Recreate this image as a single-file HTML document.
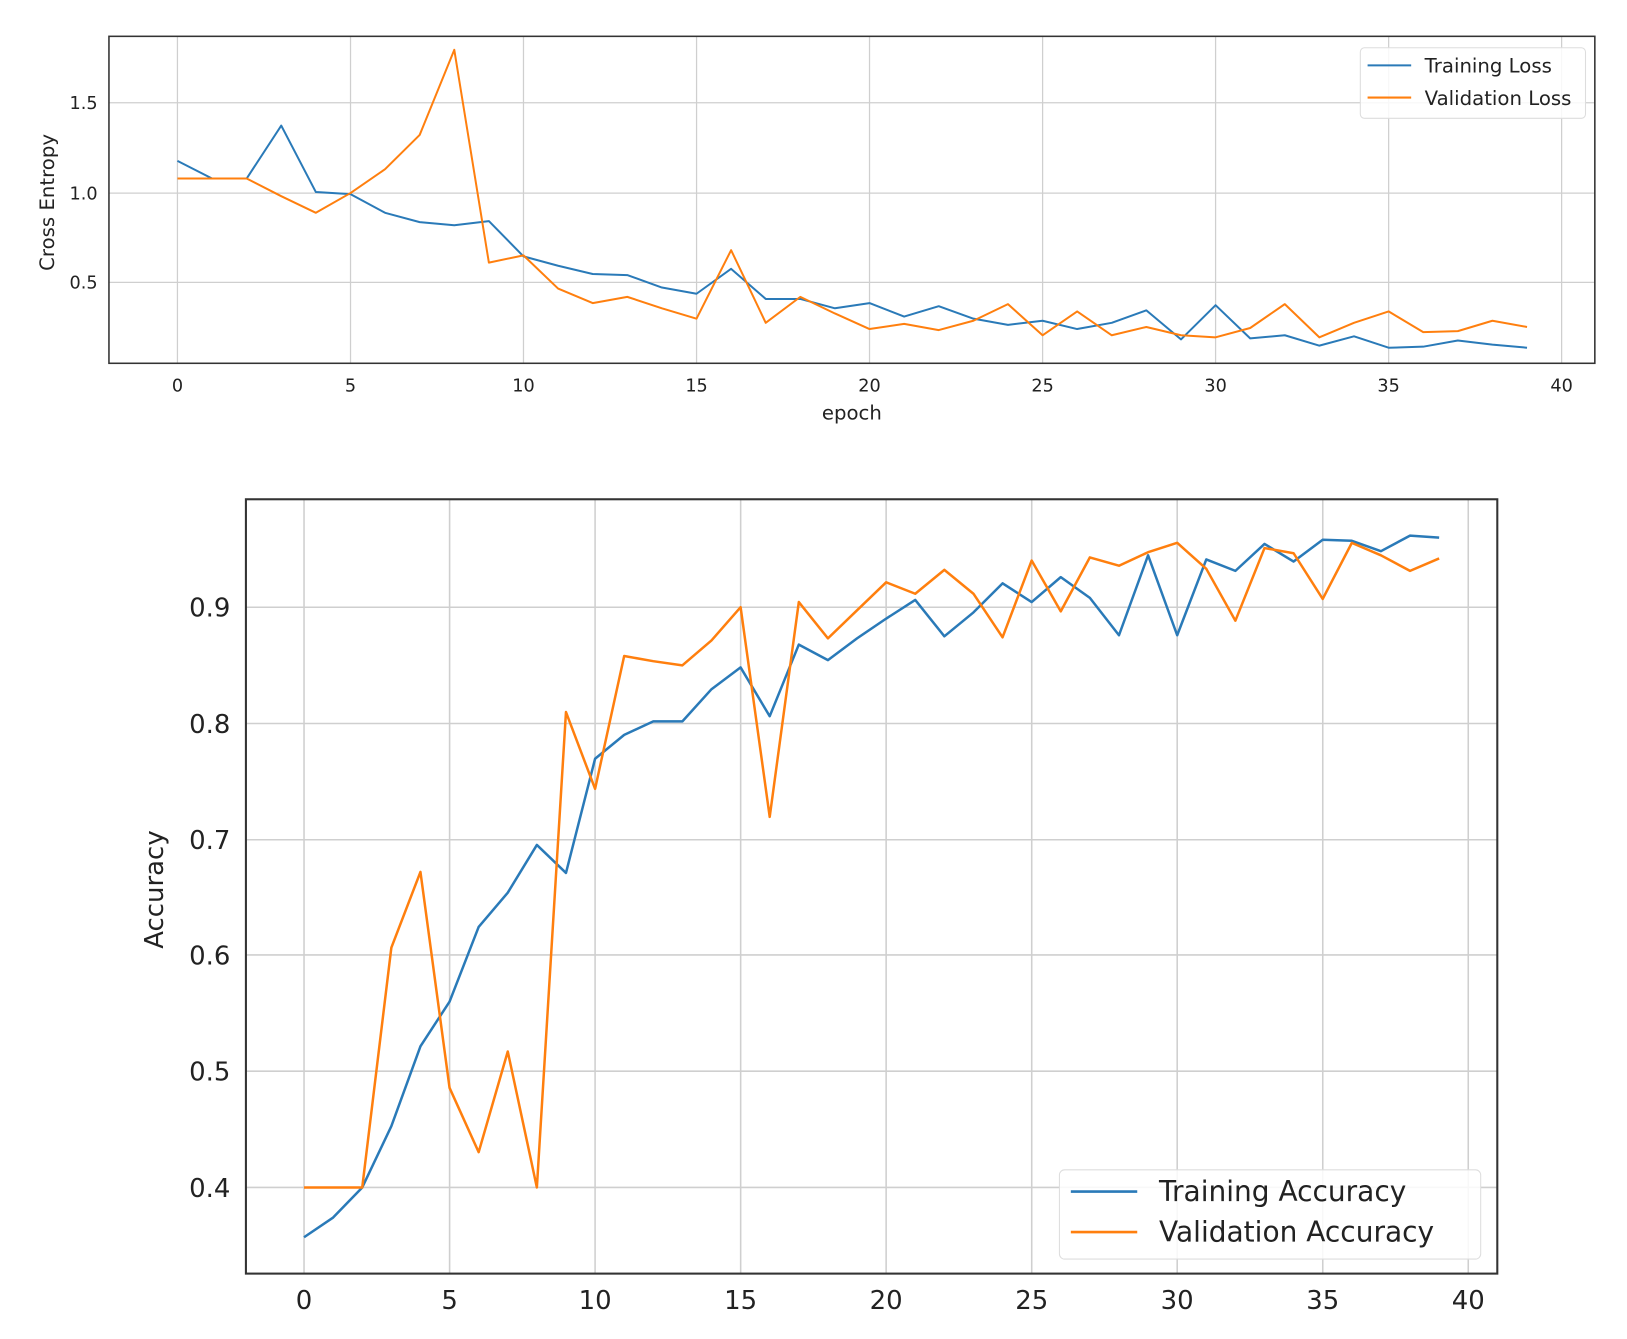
<!DOCTYPE html>
<html><head><meta charset="utf-8"><style>
html,body{margin:0;padding:0;background:#fff;}
svg{display:block;}
text{font-family:"DejaVu Sans","Liberation Sans",sans-serif;fill:#222;}
</style></head><body>
<svg width="1627" height="1339" viewBox="0 0 1568 1290" preserveAspectRatio="none" xmlns="http://www.w3.org/2000/svg">
<rect width="1568" height="1290" fill="#fff"/>
<!-- TOP PLOT -->
<g stroke="#cfcfcf" stroke-width="1.2">
<line x1="171" y1="35" x2="171" y2="350"/><line x1="337.8" y1="35" x2="337.8" y2="350"/><line x1="504.5" y1="35" x2="504.5" y2="350"/><line x1="671.3" y1="35" x2="671.3" y2="350"/><line x1="838" y1="35" x2="838" y2="350"/><line x1="1004.8" y1="35" x2="1004.8" y2="350"/><line x1="1171.5" y1="35" x2="1171.5" y2="350"/><line x1="1338.3" y1="35" x2="1338.3" y2="350"/><line x1="1505" y1="35" x2="1505" y2="350"/>
<line x1="105" y1="99" x2="1537" y2="99"/><line x1="105" y1="186" x2="1537" y2="186"/><line x1="105" y1="272" x2="1537" y2="272"/>
</g>
<g transform="translate(171,0) scale(33.35,1)" fill="none" stroke-width="2" stroke-linejoin="round">
<polyline vector-effect="non-scaling-stroke" stroke="#2a7ab8" points="0,155 1,172 2,172 3,121 4,185 5,187 6,205 7,214 8,217 9,213 10,247 11,256 12,264 13,265 14,277 15,283 16,259 17,288 18,288 19,297 20,292 21,305 22,295 23,307 24,313 25,309 26,317 27,311 28,299 29,327 30,294 31,326 32,323 33,333 34,324 35,335 36,334 37,328 38,332 39,335"/>
<polyline vector-effect="non-scaling-stroke" stroke="#ff7f0e" points="0,172 1,172 2,172 3,189 4,205 5,186 6,163 7,130 8,48 9,253 10,246 11,278 12,292 13,286 14,297 15,307 16,241 17,311 18,286 19,302 20,317 21,312 22,318 23,309 24,293 25,323 26,300 27,323 28,315 29,323 30,325 31,316 32,293 33,325 34,311 35,300 36,320 37,319 38,309 39,315"/>
</g>
<rect x="105" y="35" width="1432" height="315" fill="none" stroke="#333" stroke-width="1.5"/>
<g font-size="17" text-anchor="middle">
<text x="171" y="377">0</text><text x="337.8" y="377">5</text><text x="504.5" y="377">10</text><text x="671.3" y="377">15</text><text x="838" y="377">20</text><text x="1004.8" y="377">25</text><text x="1171.5" y="377">30</text><text x="1338.3" y="377">35</text><text x="1505" y="377">40</text>
<text x="821" y="404" font-size="19">epoch</text>
</g>
<g font-size="17" text-anchor="end">
<text x="94" y="105">1.5</text><text x="94" y="192">1.0</text><text x="94" y="278">0.5</text>
</g>
<text transform="translate(52,195) rotate(-90)" font-size="19" text-anchor="middle">Cross Entropy</text>
<rect x="1311" y="46" width="217" height="68" rx="4" fill="#fff" fill-opacity="0.85" stroke="#ddd"/>
<line x1="1318" y1="63" x2="1360" y2="63" stroke="#2a7ab8" stroke-width="2"/>
<line x1="1318" y1="94" x2="1360" y2="94" stroke="#ff7f0e" stroke-width="2"/>
<text x="1373" y="70" font-size="19">Training Loss</text>
<text x="1373" y="101" font-size="19">Validation Loss</text>

<!-- BOTTOM PLOT -->
<g stroke="#cfcfcf" stroke-width="1.5">
<line x1="293" y1="481" x2="293" y2="1227"/><line x1="433.3" y1="481" x2="433.3" y2="1227"/><line x1="573.5" y1="481" x2="573.5" y2="1227"/><line x1="713.8" y1="481" x2="713.8" y2="1227"/><line x1="854" y1="481" x2="854" y2="1227"/><line x1="994.3" y1="481" x2="994.3" y2="1227"/><line x1="1134.5" y1="481" x2="1134.5" y2="1227"/><line x1="1274.8" y1="481" x2="1274.8" y2="1227"/><line x1="1415" y1="481" x2="1415" y2="1227"/>
<line x1="237" y1="585" x2="1443" y2="585"/><line x1="237" y1="697" x2="1443" y2="697"/><line x1="237" y1="809" x2="1443" y2="809"/><line x1="237" y1="920" x2="1443" y2="920"/><line x1="237" y1="1032" x2="1443" y2="1032"/><line x1="237" y1="1144" x2="1443" y2="1144"/>
</g>
<g transform="translate(293,0) scale(28.05,1)" fill="none" stroke-width="2.5" stroke-linejoin="round">
<polyline vector-effect="non-scaling-stroke" stroke="#2a7ab8" points="0,1192 1,1173 2,1144 3,1085 4,1008 5,965 6,893 7,860 8,814 9,841 10,731 11,708 12,695 13,695 14,664 15,643 16,690 17,621 18,636 19,615 20,596 21,578 22,613 23,590 24,562 25,580 26,556 27,576 28,612 29,535 30,612 31,539 32,550 33,524 34,541 35,520 36,521 37,531 38,516 39,518"/>
<polyline vector-effect="non-scaling-stroke" stroke="#ff7f0e" points="0,1144 1,1144 2,1144 3,913 4,840 5,1048 6,1110 7,1013 8,1144 9,686 10,760 11,632 12,637 13,641 14,617 15,585 16,787 17,580 18,615 19,588 20,561 21,572 22,549 23,572 24,614 25,540 26,589 27,537 28,545 29,532 30,523 31,548 32,598 33,528 34,533 35,577 36,523 37,535 38,550 39,538"/>
</g>
<rect x="237" y="481" width="1206" height="746" fill="none" stroke="#333" stroke-width="2"/>
<g font-size="25" text-anchor="middle">
<text x="293" y="1261">0</text><text x="433.3" y="1261">5</text><text x="573.5" y="1261">10</text><text x="713.8" y="1261">15</text><text x="854" y="1261">20</text><text x="994.3" y="1261">25</text><text x="1134.5" y="1261">30</text><text x="1274.8" y="1261">35</text><text x="1415" y="1261">40</text>
</g>
<g font-size="25" text-anchor="end">
<text x="222" y="594">0.9</text><text x="222" y="706">0.8</text><text x="222" y="818">0.7</text><text x="222" y="929">0.6</text><text x="222" y="1041">0.5</text><text x="222" y="1153">0.4</text>
</g>
<text transform="translate(157,857) rotate(-90)" font-size="25" text-anchor="middle">Accuracy</text>
<rect x="1021" y="1127" width="406" height="86" rx="5" fill="#fff" fill-opacity="0.85" stroke="#ddd"/>
<line x1="1032" y1="1148" x2="1096" y2="1148" stroke="#2a7ab8" stroke-width="2.5"/>
<line x1="1032" y1="1187" x2="1096" y2="1187" stroke="#ff7f0e" stroke-width="2.5"/>
<text x="1117" y="1157" font-size="27">Training Accuracy</text>
<text x="1117" y="1196" font-size="27">Validation Accuracy</text>
</svg>
</body></html>
